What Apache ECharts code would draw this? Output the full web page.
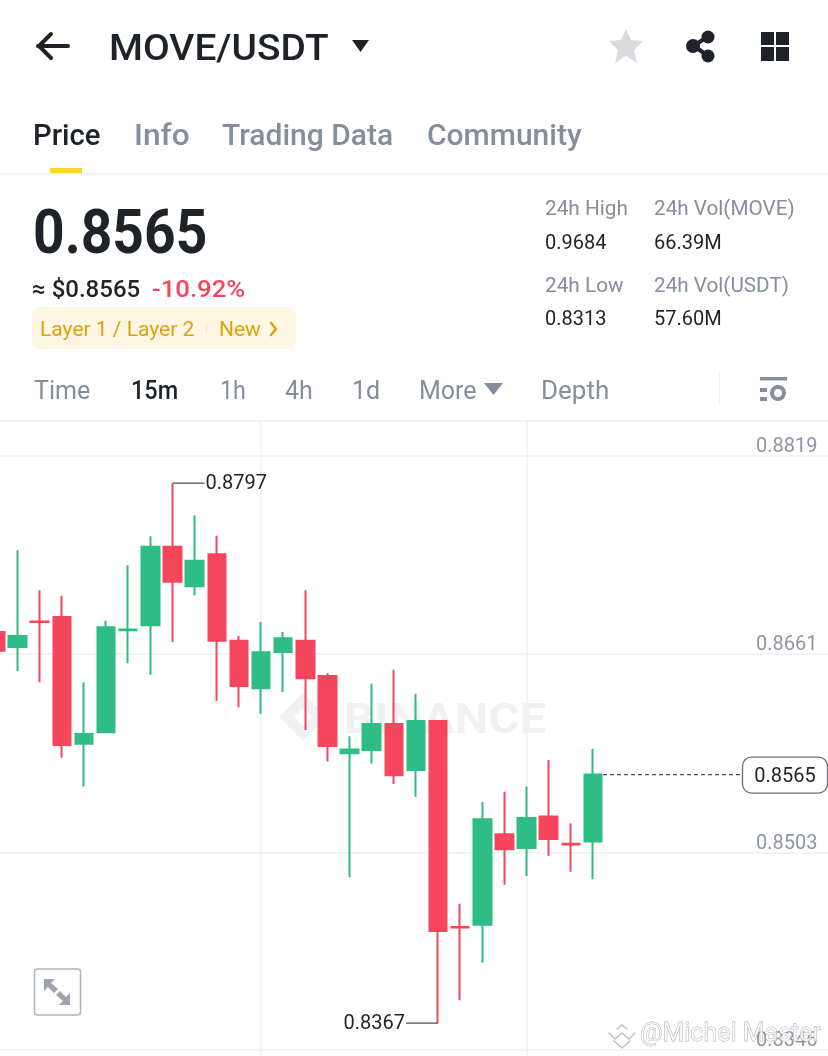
<!DOCTYPE html>
<html><head><meta charset="utf-8">
<style>html,body{margin:0;padding:0;background:#fff}#c{width:828px;height:1056px}</style>
<script src="https://cdn.jsdelivr.net/npm/echarts@6/dist/echarts.min.js"></script>
</head><body><div id="c"></div>
<script>
// ---- chart data ----
var opens  = [.86785,.86666,.86869,.86904,.85896,.85987,.86799,.86838,.87464,.87149,.87404,.86716,.86337,.86626,.86716,.86435,.8582,.85846,.86053,.85687,.86077,.84436,.84455,.85175,.85066,.85315,.85099,.85116];
var closes = [.86636,.86753,.86865,.85886,.85973,.86822,.86805,.87464,.87185,.87353,.86716,.86355,.86623,.86735,.86417,.85878,.8585,.86053,.85644,.86077,.84405,.84433,.85294,.85055,.85304,.85137,.85093,.8565];
var lows   = [.8660,.86475,.86385,.85784,.85554,.85987,.86536,.86445,.86705,.87077,.86236,.86186,.86135,.86307,.86005,.85753,.84832,.85737,.85575,.85474,.8367,.83853,.84152,.84773,.84843,.85004,.84877,.84817];
var highs  = [.8680,.87435,.87117,.87074,.86385,.86875,.87316,.87547,.8797,.87714,.87552,.86753,.86865,.86785,.87117,.86456,.85955,.86374,.86485,.86294,.86077,.84622,.85432,.85514,.85554,.85766,.85262,.85854];
var yTicks = [0.8819,0.8661,0.8503,0.8346];
var yMin = 0.83409, yMax = 0.88473;
var bandCount = 39;
var categories = []; for (var i=0;i<bandCount;i++) categories.push(String(i));
var verticalGridAt = [12,24];
var lastPrice = 0.8565, lastIndex = 27;
var extremes = [[8,0.8797,1],[20,0.8367,-1]];

var candleData = opens.map(function(o,i){return [o,closes[i],lows[i],highs[i]];});

var DARK='#1E2329',GRAY='#848E9C',LINE='#EEF0F3',RED='#F6465D',GREEN='#2EBD85',GOLD='#D9A40B';
var FONT='Roboto';

function T(s,x,y,size,color,weight,sx,align,z){
  return {type:'text',x:x,y:y+size*0.09,scaleX:sx||1,z:z||50,style:{text:s,x:0,y:0,fill:color,font:(weight||400)+' '+size+'px '+FONT,textAlign:align||'left',textVerticalAlign:'middle'}};
}
function R(x,y,w,h,fill,r,z){return {type:'rect',z:z||50,shape:{x:x,y:y,width:w,height:h,r:r||0},style:{fill:fill}};}
function P(pts,fill,z){return {type:'polygon',z:z||50,shape:{points:pts},style:{fill:fill}};}
function L(pts,color,w,z){return {type:'polyline',z:z||50,shape:{points:pts},style:{stroke:color,lineWidth:w,fill:null,lineCap:'round',lineJoin:'round'}};}
function C(x,y,r,fill){return {type:'circle',z:50,shape:{cx:x,cy:y,r:r},style:{fill:fill}};}

var g=[
 // header
 L([[38,46],[68,46]],DARK,4),L([[51,34],[39,46],[51,58]],DARK,4),
 T('MOVE/USDT',109,47,37,DARK,500,1.05),
 P([[352,40],[369,40],[360.5,52]],DARK),
 P([[626,29],[631,40],[643,41],[634,50],[637,63],[626,56],[615,63],[618,50],[609,41],[621,40]],'#D8DBDF'),
 L([[708,36],[694,46],[708,56]],DARK,4),C(708,37,6.5,DARK),C(693,46,7,DARK),C(708,56,6.5,DARK),
 R(761,32,13,13,DARK),R(776,32,13,13,DARK),R(761,47,13,14,DARK),R(776,47,13,14,DARK),
 // tabs
 T('Price',33,135,29,DARK,500,1.01),T('Info',134,135,29,GRAY,500,1.09),T('Trading Data',222,135,29,GRAY,500,1.035),T('Community',427,135,29,GRAY,500,1.035),
 R(50,168,32,5,'#FCD535'),R(0,173,828,1.5,LINE),
 // price block
 T('0.8565',33,232,62,DARK,700,.89),
 T('≈ $0.8565',32,289,24,DARK,500,1),T('-10.92%',152,289,24,RED,500,1.07),
 R(32,307,264,42,'#FDF6E3',8),
 T('Layer 1 / Layer 2',40,329,20,GOLD,400,1.05),R(206,324,1,9,'#F0E4BC'),T('New',219,329,20,GOLD,400,1.05),
 L([[271,323],[276,329],[271,335]],GOLD,2.5),
 T('24h High',545,208,21,GRAY,400,.99),T('24h Vol(MOVE)',654,208,21,GRAY,400,.985),
 T('0.9684',545,242,20,DARK,400,1),T('66.39M',654,242,20,DARK,400,1),
 T('24h Low',545,285,21,GRAY,400,.99),T('24h Vol(USDT)',654,285,21,GRAY,400,.985),
 T('0.8313',545,318,20,DARK,400,1),T('57.60M',654,318,20,DARK,400,1),
 // interval row
 T('Time',34,390,25,GRAY,400,1),T('15m',131,390,25,DARK,500,.94),T('1h',220,390,25,GRAY,400,.93),T('4h',285,390,25,GRAY,400,1),T('1d',352,390,25,GRAY,400,1),
 T('More',419,390,25,GRAY,400,1),P([[484,383],[503,383],[493.5,395]],GRAY),T('Depth',541,390,25,GRAY,400,1.04),
 R(719,372,1,33,LINE),
 R(760,377,27,3.5,GRAY),R(760,388,7,4,GRAY),R(760,397,7,4,GRAY),
 {type:'circle',z:50,shape:{cx:778,cy:393,r:6},style:{fill:'#fff',stroke:GRAY,lineWidth:4}},
 R(0,420,828,1.5,LINE),
 // Binance watermark
 {type:'polygon',z:1,shape:{points:[[303,693],[327,717],[303,741],[279,717]]},style:{fill:'#EFF1F2'}},
 {type:'polygon',z:1,shape:{points:[[303,708],[312,717],[303,726],[294,717]]},style:{fill:'#fff'}},
 T('BINANCE',344,718,43,'#F0F1F3',700,1.11,'left',1),
 // expand button
 {type:'rect',z:50,shape:{x:34.5,y:969,width:46,height:46,r:3},style:{fill:'#fff',stroke:'#AEB4BD',lineWidth:1.5}},
 P([[44,979],[55,979],[51,983],[58,989],[54,993],[48,987],[44,991]],'#9EA4AE'),
 P([[70,1005],[59,1005],[63,1001],[56,995],[60,991],[66,997],[70,993]],'#9EA4AE'),
 // platform overlay
 L([[609,1033],[615,1039],[622,1033],[629,1039],[635,1033]],'#B9BDC4',1.4,60),
 L([[617,1029],[622,1025],[627,1029]],'#B9BDC4',1.4,60),
 L([[614,1041],[622,1048],[630,1041]],'#B9BDC4',1.4,60),
 {type:'text',z:60,x:640,y:1035,style:{text:'@Michel Master',x:0,y:0,fill:'rgba(255,255,255,.75)',stroke:'#A6ABB3',lineWidth:.8,font:'400 25px '+FONT,textVerticalAlign:'middle'}}
];

var chart=echarts.init(document.getElementById('c'),null,{renderer:'canvas'});
chart.setOption({
 animation:false,
 backgroundColor:'#fff',
 graphic:{elements:g},
 grid:{left:-15.6,top:420,width:863.07,height:636,containLabel:false,outerBoundsMode:'none'},
 xAxis:{type:'category',data:categories,boundaryGap:true,
   axisLine:{show:false},axisTick:{show:false},axisLabel:{show:false},
   splitLine:{show:true,alignWithLabel:true,interval:function(i){return verticalGridAt.indexOf(i)>=0;},lineStyle:{color:LINE,width:1.5}}},
 yAxis:{type:'value',position:'right',scale:true,min:yMin,max:yMax,
   axisLine:{show:false},
   axisTick:{show:false,customValues:yTicks},
   axisLabel:{inside:true,customValues:yTicks,margin:30,color:'#8E96A3',fontFamily:FONT,fontSize:20,verticalAlign:'bottom',lineHeight:17,
     formatter:function(v){return v.toFixed(4);}},
   splitLine:{show:true,lineStyle:{color:LINE,width:1.5}}},
 series:[
  {type:'candlestick',data:candleData,barWidth:18,clip:false,
   itemStyle:{color:GREEN,color0:RED,borderColor:GREEN,borderColor0:RED,borderWidth:2}},
  {type:'custom',coordinateSystem:'cartesian2d',clip:false,z:5,silent:true,data:extremes,encode:{x:0,y:1},
   renderItem:function(p,api){
     var pt=api.coord([api.value(0),api.value(1)]),dir=api.value(2),len=32;
     return {type:'group',children:[
       {type:'line',shape:{x1:pt[0],y1:pt[1],x2:pt[0]+dir*len,y2:pt[1]},style:{stroke:'#4A4F57',lineWidth:1.3}},
       {type:'text',style:{x:pt[0]+dir*(len+1),y:pt[1]+1,text:api.value(1).toFixed(4),fill:DARK,font:'400 20px '+FONT,textAlign:dir>0?'left':'right',textVerticalAlign:'middle'}}
     ]};
   }},
  {type:'custom',coordinateSystem:'cartesian2d',clip:false,z:5,silent:true,data:[[lastIndex,lastPrice]],encode:{x:0,y:1},
   renderItem:function(p,api){
     var pt=api.coord([api.value(0),api.value(1)]);
     return {type:'group',children:[
       {type:'line',shape:{x1:pt[0]+10,y1:pt[1],x2:742,y2:pt[1]},style:{stroke:'#4A4F57',lineWidth:1.3,lineDash:[4,3]}},
       {type:'rect',shape:{x:742.5,y:pt[1]-17.5,width:85,height:36,r:9},style:{fill:'#fff',stroke:'#6B7078',lineWidth:1.3}},
       {type:'text',style:{x:785,y:pt[1]+2,text:api.value(1).toFixed(4),fill:DARK,font:'400 20px '+FONT,textAlign:'center',textVerticalAlign:'middle'}}
     ]};
   }}
 ]
});
</script></body></html>
